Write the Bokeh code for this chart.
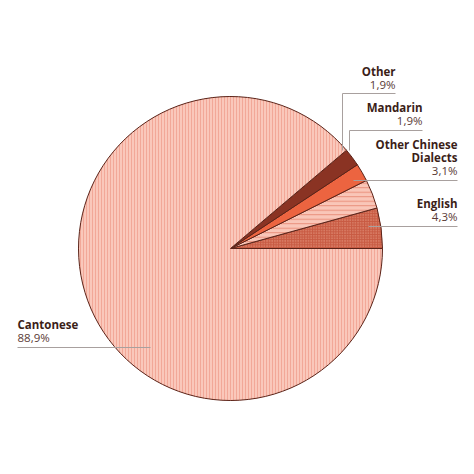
import math
from bokeh.plotting import figure
from bokeh.models import Range1d, ColumnDataSource
from bokeh.core.properties import value
from bokeh.embed import file_html
from bokeh.resources import INLINE

# ---- data ----
languages = ["English", "Other Chinese Dialects", "Mandarin", "Other", "Cantonese"]
shares = [4.3, 3.1, 1.9, 1.9, 88.9]
share_labels = ["4,3%", "3,1%", "1,9%", "1,9%", "88,9%"]

# ---- styles ----
fills = ["#c85a42", "#f9c6b8", "#ec6440", "#8a3323", "#fac8bb"]
hatches = [".", "-", " ", " ", "|"]
hatch_colors = ["#eca58f", "#e98f7a", "#ec6440", "#8a3323", "#f2a898"]
hatch_scales = [2.6, 4.5, 4, 4, 3.0]

W = H = 466
p = figure(width=W, height=H, output_backend="svg", toolbar_location=None,
           x_range=Range1d(0, W), y_range=Range1d(0, H), min_border=0)
p.axis.visible = False
p.grid.visible = False
p.outline_line_color = None
p.background_fill_color = "white"

def cx(px):
    return px

def cy(py):
    return H - py

center_x, center_y, radius = cx(230), cy(248), 152
total = sum(shares)
starts, ends = [], []
acc = 0.0
for s in shares:
    starts.append(2 * math.pi * acc / total)
    acc += s
    ends.append(2 * math.pi * acc / total)

src = ColumnDataSource(dict(lang=languages, start=starts, end=ends, fill=fills,
                            hatch=hatches, hcol=hatch_colors, hscale=hatch_scales))
p.wedge(x=center_x, y=center_y, radius=radius, start_angle="start", end_angle="end",
        source=src, fill_color="fill", line_color="#5b2318", line_width=1,
        hatch_pattern="hatch", hatch_color="hcol", hatch_scale="hscale", hatch_weight=1)

# ---- leader lines (page px) ----
leaders = {
    "Other": ([342, 342, 395], [150, 93, 93]),
    "Mandarin": ([349, 349, 422], [150, 130, 130]),
    "Other Chinese Dialects": ([353, 457], [180, 180]),
    "English": ([368, 457], [226, 226]),
    "Cantonese": ([17, 150], [347, 347]),
}
p.multi_line(xs=[[cx(v) for v in xs] for xs, ys in leaders.values()],
             ys=[[cy(v) for v in ys] for xs, ys in leaders.values()],
             line_color="#a8a09e", line_width=1)

# ---- labels ----
title_lines = {
    "English": ["English"],
    "Other Chinese Dialects": ["Other Chinese", "Dialects"],
    "Mandarin": ["Mandarin"],
    "Other": ["Other"],
    "Cantonese": ["Cantonese"],
}
label_pos = {  # anchor x, first line y (page px), align
    "Other": (395, 71, "right"),
    "Mandarin": (422, 107, "right"),
    "Other Chinese Dialects": (457, 144, "right"),
    "English": (457, 203, "right"),
    "Cantonese": (17, 324, "left"),
}
step = 13
for lang, lab in zip(languages, share_labels):
    x0, y0, align = label_pos[lang]
    lines = title_lines[lang]
    for i, t in enumerate(lines):
        p.text(x=[cx(x0)], y=[cy(y0 + i * step)], text=[t], text_align=align,
               text_baseline="middle", text_font=value("Open Sans"), text_font_style="bold",
               text_font_size="11.5px", text_color="#3b1e18")
    p.text(x=[cx(x0)], y=[cy(y0 + len(lines) * step)], text=[lab], text_align=align,
           text_baseline="middle", text_font=value("Open Sans"),
           text_font_size="11.5px", text_color="#5a3a35")

open("out.html", "w").write(file_html(p, INLINE))
